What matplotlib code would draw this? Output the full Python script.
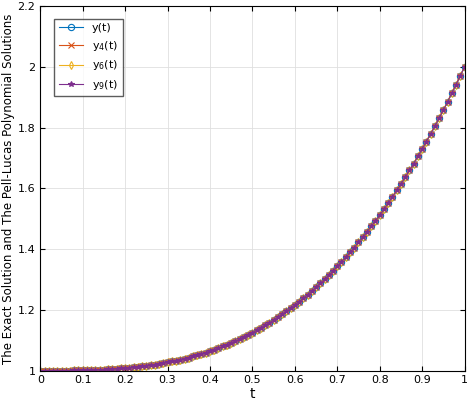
import numpy as np
import matplotlib
matplotlib.use("Agg")
import matplotlib.pyplot as plt

t = np.round(np.arange(101) * 0.01, 2)
y_exact = [1.000,1.000,1.000,1.000,1.000,1.000,1.000,1.000,1.001,1.001,1.001,1.001,1.002,1.002,1.003,1.003,1.004,1.005,1.006,1.007,
1.008,1.009,1.011,1.012,1.014,1.016,1.018,1.020,1.022,1.024,1.027,1.030,1.033,1.036,1.039,1.043,1.047,1.051,1.055,1.059,
1.064,1.069,1.074,1.080,1.085,1.091,1.097,1.104,1.111,1.118,1.125,1.133,1.141,1.149,1.157,1.166,1.176,1.185,1.195,1.205,
1.216,1.227,1.238,1.250,1.262,1.275,1.287,1.301,1.314,1.329,1.343,1.358,1.373,1.389,1.405,1.422,1.439,1.457,1.475,1.493,
1.512,1.531,1.551,1.572,1.593,1.614,1.636,1.659,1.681,1.705,1.729,1.754,1.779,1.804,1.831,1.857,1.885,1.913,1.941,1.970,2.000]
y4 = list(y_exact)
y6 = list(y_exact)
y9 = list(y_exact)

fig = plt.figure(figsize=(4.74, 4.05), dpi=100)
ax = fig.add_axes([0.085, 0.085, 0.895, 0.9])
ax.plot(t, y_exact, '-o', color='#0072BD', mfc='none', ms=4.5, mew=0.8, lw=0.8, label='y(t)')
ax.plot(t, y4, '-x', color='#D95319', ms=4, mew=0.8, lw=0.8, label='y$_4$(t)')
ax.plot(t, y6, '-d', color='#EDB120', mfc='none', ms=4, mew=0.8, lw=0.8, label='y$_6$(t)')
ax.plot(t, y9, '-*', color='#7E2F8E', ms=4, mew=0.8, lw=0.8, label='y$_9$(t)')
ax.set_xlim(0, 1)
ax.set_ylim(1, 2.2)
ax.set_xticks(np.arange(0, 1.01, 0.1))
ax.set_xticklabels(['0','0.1','0.2','0.3','0.4','0.5','0.6','0.7','0.8','0.9','1'])
ax.set_yticks(np.arange(1, 2.21, 0.2))
ax.set_yticklabels(['1','1.2','1.4','1.6','1.8','2','2.2'])
ax.tick_params(labelsize=8, direction='in', top=True, right=True)
ax.grid(True, color='#dfdfdf', lw=0.6)
ax.set_axisbelow(True)
ax.set_xlabel('t', fontsize=10, labelpad=1)
ax.set_ylabel('The Exact Solution and The Pell-Lucas Polynomial Solutions', fontsize=8.5, labelpad=2)
ax.legend(loc='upper left', fontsize=8, bbox_to_anchor=(0.02, 0.98), fancybox=False, edgecolor='#333333', handlelength=2.2)
fig.savefig('out.png')
